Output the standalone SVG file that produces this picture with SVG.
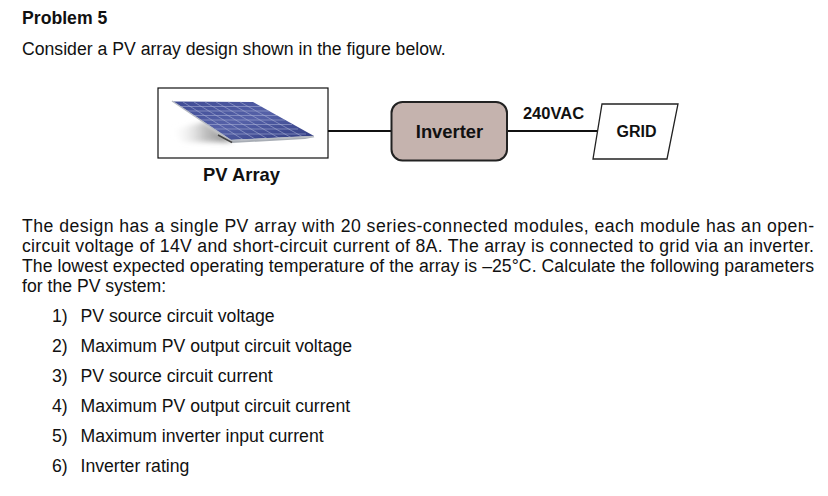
<svg xmlns="http://www.w3.org/2000/svg" width="828" height="496" viewBox="0 0 828 496">
<defs>
<linearGradient id="panel" x1="0" y1="0" x2="1" y2="1"><stop offset="0" stop-color="#3f4b94"/><stop offset="0.5" stop-color="#5561a8"/><stop offset="1" stop-color="#2f3a80"/></linearGradient>
<linearGradient id="shadow" x1="0" y1="0" x2="1" y2="0"><stop offset="0" stop-color="#fff" stop-opacity="0"/><stop offset="0.55" stop-color="#aaa" stop-opacity=".7"/><stop offset="1" stop-color="#666" stop-opacity=".85"/></linearGradient>
<filter id="soft" x="-20%" y="-40%" width="140%" height="180%"><feGaussianBlur stdDeviation="2.5"/></filter>
<filter id="slight"><feGaussianBlur stdDeviation="0.4"/></filter>
</defs>
<style>
text{font-family:"Liberation Sans",Arial,sans-serif;fill:#111}
.t{font-size:17.65px}
.b{font-weight:700}
.n{font-size:18.4px;font-weight:700}
.v{font-size:16.5px;font-weight:700}
.r{font-size:16px;font-weight:700}
.g{stroke:#aeb5d8;stroke-width:.9;opacity:.6;fill:none}
.wire{stroke:#111;stroke-width:2;fill:none}
</style>
<rect width="828" height="496" fill="#fff"/>
<text x="22" y="23.500" class="t b">Problem 5</text>
<text x="22" y="54.500" class="t">Consider a PV array design shown in the figure below.</text>
<g id="connectors">
<line class="wire" x1="328" y1="131" x2="391" y2="131"/>
<line class="wire" x1="507" y1="131" x2="597" y2="131"/>
</g>
<g id="pv-array">
<rect x="158" y="88" width="170" height="70" fill="#fff" stroke="#111" stroke-width="1.2"/>
<path d="M170 130L205 122L232 142H182Z" fill="url(#shadow)" filter="url(#soft)"/>
<g filter="url(#slight)">
<path d="M173 101.500L231 140L314 136L253 102Z" fill="url(#panel)"/>
<path class="g" d="M183 102L243 139.500M194 102L255 139M205 102L267 138.500M216 102L279 138M228 102L291 137.500M240 102L303 137"/>
<path class="g" d="M180 106.500H261M187 111H269M194 115.500H277M201 120H285M208 124.500H292M215 129H298M222 134H306"/>
<path d="M172 101L231 140.500L314 136.500" fill="none" stroke="#b8bcc4" stroke-width="1.500"/>
<path d="M229 141L315 137L305 139L232 143Z" fill="#a8adb5"/>
<path d="M218 135L232 142.500" stroke="#444" stroke-width="1.500"/>
</g>
<text x="241.500" y="180.500" text-anchor="middle" class="n">PV Array</text>
</g>
<g id="inverter">
<rect x="391.500" y="102" width="115.500" height="58.500" rx="11" fill="#c5b3ae" stroke="#222" stroke-width="2"/>
<text x="449.500" y="137.500" text-anchor="middle" class="n">Inverter</text>
</g>
<text x="553.500" y="119" text-anchor="middle" class="v">240VAC</text>
<g id="grid">
<path d="M602 104H678L667 159H593Z" fill="#fff" stroke="#222" stroke-width="1.300"/>
<text x="636.500" y="137" text-anchor="middle" class="r">GRID</text>
</g>
<text x="22" y="231.500" class="t" textLength="792">The design has a single PV array with 20 series-connected modules, each module has an open-</text>
<text x="22" y="251.500" class="t" textLength="792">circuit voltage of 14V and short-circuit current of 8A. The array is connected to grid via an inverter.</text>
<text x="22" y="271.500" class="t" textLength="792">The lowest expected operating temperature of the array is –25°C. Calculate the following parameters</text>
<text x="22" y="291.500" class="t">for the PV system:</text>
<text x="52" y="321.500" class="t">1)</text><text x="80.500" y="321.500" class="t">PV source circuit voltage</text>
<text x="52" y="351.500" class="t">2)</text><text x="80.500" y="351.500" class="t">Maximum PV output circuit voltage</text>
<text x="52" y="381.500" class="t">3)</text><text x="80.500" y="381.500" class="t">PV source circuit current</text>
<text x="52" y="411.500" class="t">4)</text><text x="80.500" y="411.500" class="t">Maximum PV output circuit current</text>
<text x="52" y="441.500" class="t">5)</text><text x="80.500" y="441.500" class="t">Maximum inverter input current</text>
<text x="52" y="471.500" class="t">6)</text><text x="80.500" y="471.500" class="t">Inverter rating</text>
</svg>
